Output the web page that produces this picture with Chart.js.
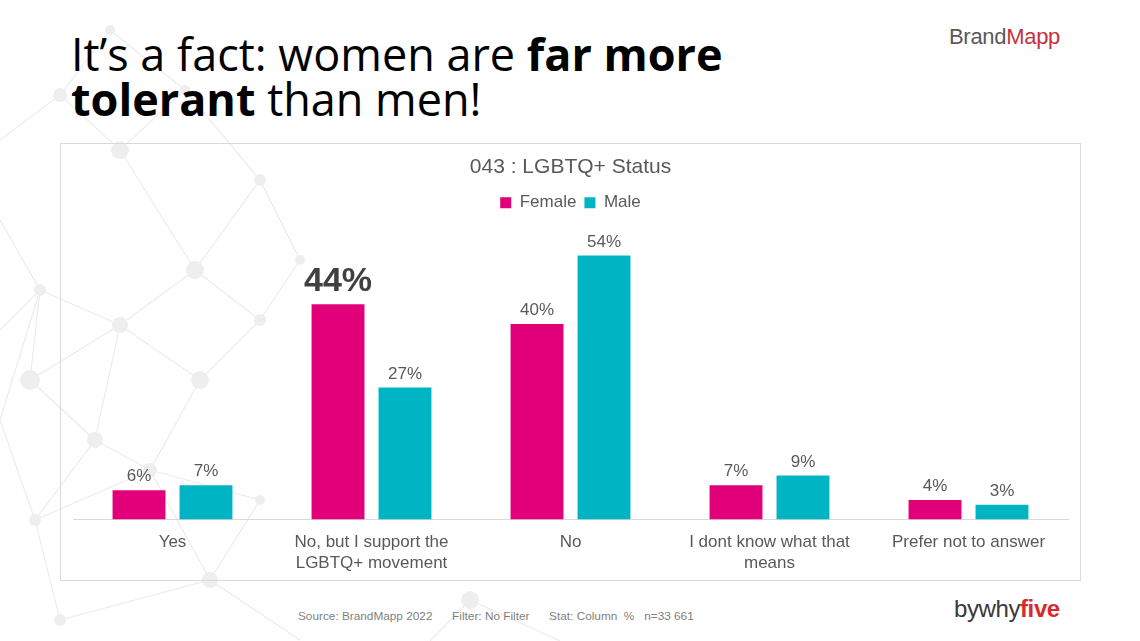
<!DOCTYPE html>
<html lang="en">
<head>
<meta charset="utf-8">
<script src="https://cdn.jsdelivr.net/npm/chart.js@4"></script>
<style>
  body { margin: 0; background: #fff; font-family: "Liberation Sans", Arial, sans-serif; }
  #slide { position: relative; width: 1140px; height: 641px; overflow: hidden; background: #fff; }
  #deco { position: absolute; left: 0; top: 0; }
  #title { position: absolute; left: 71px; top: 31px; font-family: "Open Sans", sans-serif;
           font-size: 45px; line-height: 45px; color: #000; white-space: nowrap; }
  #title b { font-weight: 700; }
  #brand { position: absolute; left: 949px; top: 24px; font-size: 22px; color: #595959; letter-spacing: -0.3px; }
  #brand span { color: #c8303a; }
  #box { position: absolute; left: 60px; top: 143px; width: 1019px; height: 436px;
         border: 1px solid #d9d9d9; }
  #wrap { position: absolute; left: 61px; top: 144px; width: 1019px; height: 442px; }
  #footer { position: absolute; left: 298px; top: 609px; font-size: 11.8px; color: #7f7f7f; white-space: pre; }
  #why { position: absolute; left: 954px; top: 595px; font-size: 24px; color: #3a3a3a; letter-spacing: -0.4px; }
  #why b { color: #d52b2b; }
</style>
</head>
<body>
<div id="slide">
  <svg id="deco" width="1140" height="641">
    <g stroke="#ececec" stroke-width="1.2" fill="none">
      <polyline points="0,140 60,95 120,150 185,90 260,180 195,270 120,325 40,290 0,330"/>
      <polyline points="60,95 110,30 185,90"/>
      <polyline points="120,150 195,270 260,320 200,380 120,325"/>
      <polyline points="40,290 30,380 120,325 95,440 30,380"/>
      <polyline points="200,380 150,470 95,440 35,520 150,470 210,580"/>
      <polyline points="35,520 60,620 210,580 300,640"/>
      <polyline points="0,220 40,290 0,420 35,520"/>
      <polyline points="260,180 300,260 260,320"/>
      <polyline points="150,470 260,500 210,580"/>
      <polyline points="430,641 470,600 560,641"/>
    </g>
    <g fill="#eeeeee">
      <circle cx="60" cy="95" r="7"/><circle cx="120" cy="150" r="9"/><circle cx="185" cy="90" r="5"/>
      <circle cx="260" cy="180" r="6"/><circle cx="195" cy="270" r="9"/><circle cx="120" cy="325" r="8"/>
      <circle cx="40" cy="290" r="6"/><circle cx="30" cy="380" r="10"/><circle cx="200" cy="380" r="9"/>
      <circle cx="95" cy="440" r="8"/><circle cx="150" cy="470" r="7"/><circle cx="35" cy="520" r="6"/>
      <circle cx="210" cy="580" r="8"/><circle cx="60" cy="620" r="6"/><circle cx="110" cy="30" r="5"/>
      <circle cx="260" cy="320" r="6"/><circle cx="300" cy="260" r="5"/><circle cx="470" cy="600" r="9"/>
      <circle cx="260" cy="500" r="5"/>
    </g>
  </svg>
  <div id="title">It’s a fact: women are <b>far more</b><br><b>tolerant</b> than men!</div>
  <div id="brand">Brand<span>Mapp</span></div>
  <div id="box"></div>
  <div id="wrap"><canvas id="chart"></canvas></div>
  <div id="footer">Source: BrandMapp 2022      Filter: No Filter      Stat: Column  %   n=33 661</div>
  <div id="why">bywhy<b>five</b></div>
</div>
<script>
  // Categories and values (percent)
  const categories = [
    "Yes",
    ["No, but I support the", "LGBTQ+ movement"],
    "No",
    ["I dont know what that", "means"],
    "Prefer not to answer",
  ];
  const female = [6, 44, 40, 7, 4];
  const male = [7, 27, 54, 9, 3];

  // the one value called out in large bold type
  const highlight = { dataset: 0, index: 1 };

  // Draw the percentage above each bar
  const valueLabels = {
    id: "valueLabels",
    afterDatasetsDraw(chart) {
      const ctx = chart.ctx;
      ctx.save();
      ctx.textAlign = "center";
      ctx.textBaseline = "bottom";
      chart.data.datasets.forEach((ds, di) => {
        chart.getDatasetMeta(di).data.forEach((bar, i) => {
          const big = di === highlight.dataset && i === highlight.index;
          ctx.font = big ? "bold 34px 'Liberation Sans', Arial" : "17px 'Liberation Sans', Arial";
          ctx.fillStyle = big ? "#404040" : "#595959";
          ctx.fillText(ds.data[i] + "%", bar.x, bar.y - (big ? 6 : 5));
        });
      });
      ctx.restore();
    },
  };

  const ctx = document.getElementById("chart").getContext("2d");
  new Chart(ctx, {
    type: "bar",
    data: {
      labels: categories,
      datasets: [
        { label: "Female", data: female, backgroundColor: "#e2007a" },
        { label: "Male", data: male, backgroundColor: "#00b5c3" },
      ],
    },
    options: {
      responsive: true,
      maintainAspectRatio: false,
      animation: false,
      categoryPercentage: 0.673,
      barPercentage: 0.79,
      layout: { padding: { left: 12, right: 12, top: 0, bottom: 0 } },
      plugins: {
        title: {
          display: true,
          text: "043 : LGBTQ+ Status",
          color: "#595959",
          font: { family: "'Liberation Sans', Arial", size: 21, weight: "normal" },
          padding: { top: 11, bottom: 6 },
        },
        legend: {
          position: "top",
          labels: {
            color: "#595959",
            font: { family: "'Liberation Sans', Arial", size: 17 },
            boxWidth: 11,
            boxHeight: 11,
            padding: 8,
          },
        },
        tooltip: { enabled: false },
      },
      scales: {
        x: {
          grid: { display: false, drawTicks: false },
          border: { color: "#d9d9d9" },
          ticks: {
            color: "#595959",
            font: { family: "'Liberation Sans', Arial", size: 17, lineHeight: 1.25 },
            padding: 12,
            maxRotation: 0,
            autoSkip: false,
          },
        },
        y: {
          display: false,
          min: 0,
          max: 61,
        },
      },
    },
    plugins: [valueLabels],
  });
</script>
</body>
</html>
